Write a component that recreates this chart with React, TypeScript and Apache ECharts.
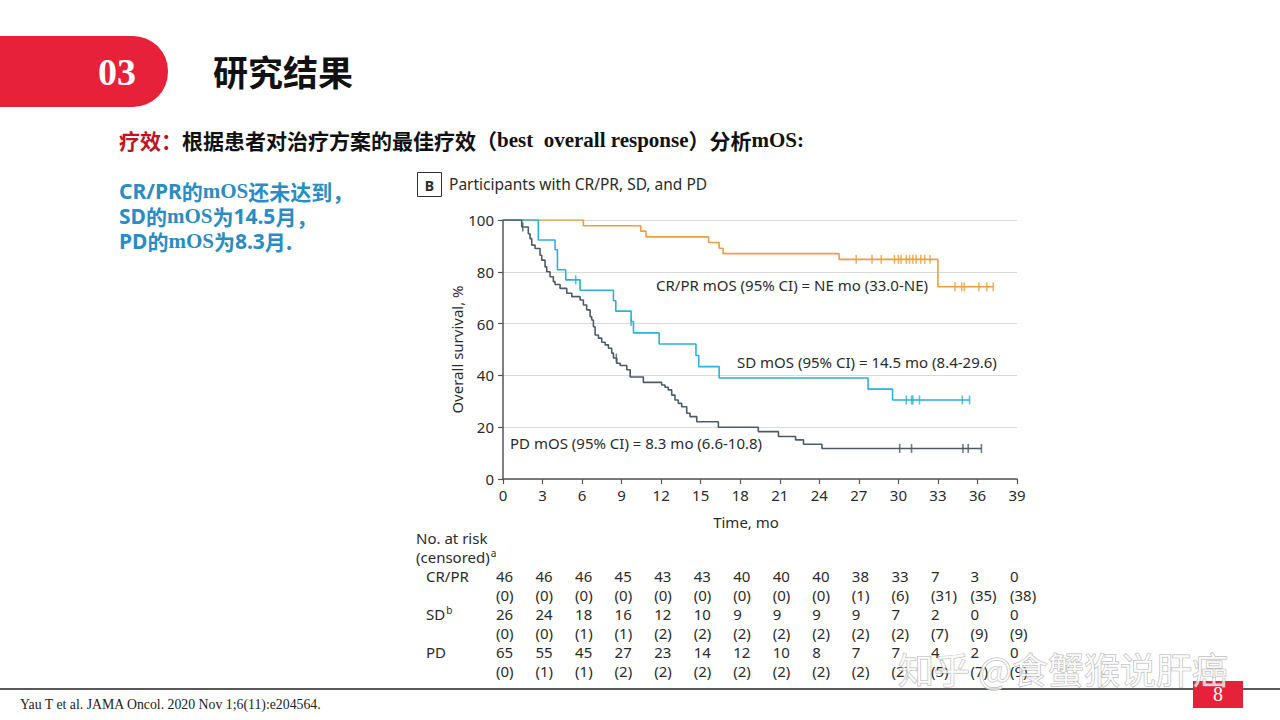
import { useEffect, useRef } from 'react';
import * as echarts from 'echarts';

// ---- Kaplan-Meier data (months, survival %) ----
const crTimes = [0, 6.1, 10.45, 10.85, 15.6, 16.4, 16.7, 25.5, 33.0, 37.2];
const crSurv = [100, 97.8, 95.7, 93.5, 91.3, 89.1, 87.0, 84.8, 74.2, 74.2];
const crCensor = [26.8, 28.0, 28.7, 29.7, 30.0, 30.2, 30.6, 30.85, 31.1, 31.35, 31.7, 32.0, 32.4, 34.3, 34.8, 35.0, 36.1, 36.7, 37.2];

const sdTimes = [0, 2.68, 3.95, 4.13, 4.76, 5.85, 8.38, 8.56, 9.72, 9.9, 11.85, 14.64, 14.85, 16.4, 27.7, 29.56, 35.4];
const sdSurv = [100, 92.3, 88.5, 80.8, 76.9, 72.9, 68.8, 64.8, 60.8, 56.4, 52.1, 47.7, 43.4, 39.0, 34.7, 30.5, 30.5];
const sdCensor = [5.52, 9.72, 30.6, 31.0, 31.1, 31.6, 34.85, 35.4];

const pdTimes = [0, 1.42, 1.92, 2.05, 2.18, 2.43, 2.81, 2.94, 3.19, 3.32, 3.57, 3.82, 3.95, 4.33, 4.84, 5.22, 5.85, 6.1, 6.35, 6.61, 6.73, 6.86, 6.99, 7.24, 7.49, 7.75, 8.0, 8.25, 8.38, 8.63, 8.89, 9.39, 9.65, 10.65, 12.04, 12.29, 12.54, 12.8, 13.05, 13.3, 13.56, 13.94, 14.19, 14.7, 16.34, 19.37, 20.9, 22.2, 22.8, 24.2, 36.3];
const pdSurv = [100, 97.3, 94.7, 92.8, 90.3, 89.0, 86.4, 84.5, 81.9, 80.0, 78.1, 76.2, 75.1, 73.6, 71.7, 70.4, 69.1, 67.2, 65.3, 62.7, 61.4, 58.8, 55.6, 54.4, 52.8, 51.8, 50.5, 48.6, 46.7, 44.7, 43.8, 42.2, 39.4, 37.3, 36.3, 35.4, 34.4, 32.4, 30.5, 29.2, 27.9, 25.4, 24.1, 22.1, 20.0, 18.3, 16.4, 15.1, 13.4, 11.8, 11.8];
const pdCensor = [1.5, 8.6, 30.1, 31.0, 34.9, 35.3, 36.3];

// ---- Number at risk table ----
const riskMonths = [0, 3, 6, 9, 12, 15, 18, 21, 24, 27, 30, 33, 36, 39];
const crRisk = [46, 46, 46, 45, 43, 43, 40, 40, 40, 38, 33, 7, 3, 0];
const crRiskCens = [0, 0, 0, 0, 0, 0, 0, 0, 0, 1, 6, 31, 35, 38];
const sdRisk = [26, 24, 18, 16, 12, 10, 9, 9, 9, 9, 7, 2, 0, 0];
const sdRiskCens = [0, 0, 1, 1, 2, 2, 2, 2, 2, 2, 2, 7, 9, 9];
const pdRisk = [65, 55, 45, 27, 23, 14, 12, 10, 8, 7, 7, 4, 2, 0];
const pdRiskCens = [0, 1, 1, 2, 2, 2, 2, 2, 2, 2, 2, 5, 7, 9];

const yTicks = [0, 20, 40, 60, 80, 100];

const COLOR_CR = '#E9A040';
const COLOR_SD = '#2BB1DA';
const COLOR_PD = '#4D5B66';
const TXT = '#2b2b2b';
const SANS = '"Noto Sans", sans-serif';
const CJK = '"Noto Sans CJK SC", sans-serif';
const SERIF = '"Liberation Serif", "Times New Roman", serif';

const pairs = (t: number[], s: number[]) => t.map((v, i) => [v, s[i]]);
const stepAt = (t: number[], s: number[], x: number) => {
  let v = s[0];
  for (let i = 0; i < t.length; i++) if (t[i] <= x) v = s[i];
  return v;
};

export default function App() {
  const ref = useRef<HTMLDivElement>(null);
  useEffect(() => {
    const chart = echarts.init(ref.current!, null, { renderer: 'svg' });
    const censorSeries = (name: string, times: number[], t: number[], s: number[], color: string) => ({
      name,
      type: 'scatter',
      symbol: 'rect',
      symbolSize: [1.6, 9],
      itemStyle: { color },
      data: times.map((x) => [x, stepAt(t, s, x)]),
      z: 5,
    });
    const lineSeries = (name: string, t: number[], s: number[], color: string) => ({
      name,
      type: 'line',
      step: 'end',
      showSymbol: false,
      symbol: 'none',
      lineStyle: { color, width: 1.6 },
      data: pairs(t, s),
      z: 4,
    });
    chart.setOption({
      animation: false,
      backgroundColor: '#ffffff',
      grid: { left: 503, top: 220, width: 514, height: 259 },
      xAxis: {
        type: 'value',
        min: 0,
        max: 39,
        interval: 3,
        axisLine: { lineStyle: { color: '#555', width: 1.5 } },
        axisTick: { show: true, length: 5, lineStyle: { color: '#555', width: 1.2 } },
        axisLabel: { fontSize: 15, color: TXT, fontFamily: SANS, margin: 8 },
        splitLine: { show: false },
      },
      yAxis: {
        type: 'value',
        min: 0,
        max: 100,
        interval: 20,
        name: 'Overall survival, %',
        nameLocation: 'middle',
        nameGap: 37,
        nameTextStyle: { fontSize: 15, color: TXT, fontFamily: SANS },
        axisLine: { show: true, lineStyle: { color: '#555', width: 1.5 } },
        axisTick: { show: true, length: 5, lineStyle: { color: '#555', width: 1.2 } },
        axisLabel: { fontSize: 15, color: TXT, fontFamily: SANS, margin: 9, formatter: (v: number) => (yTicks.includes(v) ? String(v) : '') },
        splitLine: { show: true, lineStyle: { color: '#DADADA', width: 1.2 } },
      },
      series: [
        lineSeries('CR/PR', crTimes, crSurv, COLOR_CR),
        lineSeries('SD', sdTimes, sdSurv, COLOR_SD),
        lineSeries('PD', pdTimes, pdSurv, COLOR_PD),
        censorSeries('CR/PR censored', crCensor, crTimes, crSurv, COLOR_CR),
        censorSeries('SD censored', sdCensor, sdTimes, sdSurv, COLOR_SD),
        censorSeries('PD censored', pdCensor, pdTimes, pdSurv, COLOR_PD),
      ],
    });

    const px = (m: number) => chart.convertToPixel({ xAxisIndex: 0 }, m) as number;
    const txt = (text: string, x: number, y: number, extra: any = {}) => ({
      type: 'text',
      x,
      y,
      silent: true,
      style: { text, fill: TXT, font: `15px ${SANS}`, align: 'left', verticalAlign: 'middle', ...extra },
    });

    const rowYs = [576, 595, 614, 633, 652, 671];
    const tableRows: [number[], number[]][] = [
      [crRisk, crRiskCens],
      [sdRisk, sdRiskCens],
      [pdRisk, pdRiskCens],
    ];
    const tableEls: any[] = [];
    tableRows.forEach(([vals, cens], r) => {
      riskMonths.forEach((m, i) => {
        const x = px(m) - 7;
        tableEls.push(txt(String(vals[i]), x, rowYs[r * 2]));
        tableEls.push(txt(`(${cens[i]})`, x, rowYs[r * 2 + 1]));
      });
    });

    const graphic: any[] = [
      // header tab
      { type: 'rect', shape: { x: 0, y: 36, width: 168, height: 71, r: [0, 35, 35, 0] }, style: { fill: '#E8213A' } },
      txt('03', 117, 72, { fill: '#ffffff', font: `bold 38px ${SERIF}`, align: 'center' }),
      txt('研究结果', 213, 70, { fill: '#111', font: `bold 35px ${CJK}` }),
      {
        type: 'text',
        x: 119,
        y: 140,
        style: {
          text: '{r|疗效：}{k|根据患者对治疗方案的最佳疗效（}{e|best  overall response}{k|）分析}{e|mOS:}',
          verticalAlign: 'middle',
          rich: {
            r: { fill: '#C0141E', font: `bold 21px ${CJK}` },
            k: { fill: '#111', font: `bold 21px ${CJK}` },
            e: { fill: '#111', font: `bold 21px ${SERIF}` },
          },
        },
      },
      ...[
        '{s|CR/PR}{c|的}{e|mOS}{c|还未达到，}',
        '{s|SD}{c|的}{e|mOS}{c|为}{s|14.5}{c|月，}',
        '{s|PD}{c|的}{e|mOS}{c|为}{s|8.3}{c|月.}',
      ].map((t, i) => ({
        type: 'text',
        x: 119,
        y: 191 + i * 25,
        style: {
          text: t,
          verticalAlign: 'middle',
          rich: {
            s: { fill: '#2A8CC2', font: `bold 21px ${SANS}`, lineHeight: 22 },
            c: { fill: '#2A8CC2', font: `bold 21px ${CJK}`, lineHeight: 22 },
            e: { fill: '#2A8CC2', font: `bold 21px ${SERIF}`, lineHeight: 22 },
          },
        },
      })),
      // panel title
      { type: 'rect', shape: { x: 417.5, y: 172.5, width: 24, height: 24 }, style: { fill: 'none', stroke: '#333', lineWidth: 1 } },
      txt('B', 429.5, 185, { font: `bold 14px ${SANS}`, align: 'center' }),
      txt('Participants with CR/PR, SD, and PD', 449, 184, { font: `15.5px ${SANS}` }),
      // annotations
      txt('CR/PR mOS (95% CI) = NE mo (33.0-NE)', 656, 285, { font: `15px ${SANS}` }),
      txt('SD mOS (95% CI) = 14.5 mo (8.4-29.6)', 737, 362, { font: `15px ${SANS}` }),
      txt('PD mOS (95% CI) = 8.3 mo (6.6-10.8)', 510, 443, { font: `15px ${SANS}` }),
      txt('Time, mo', 746, 522, { font: `15px ${SANS}`, align: 'center' }),
      // risk table
      txt('No. at risk', 416, 538),
      {
        type: 'text',
        x: 416,
        y: 557,
        style: {
          text: '{n|(censored)}{s|a}',
          verticalAlign: 'middle',
          rich: {
            n: { fill: TXT, font: `15px ${SANS}` },
            s: { fill: TXT, font: `10px ${SANS}`, verticalAlign: 'top', padding: [0, 0, 8, 1] },
          },
        },
      },
      txt('CR/PR', 426, 576),
      {
        type: 'text',
        x: 426,
        y: 614,
        style: {
          text: '{n|SD}{s|b}',
          verticalAlign: 'middle',
          rich: {
            n: { fill: TXT, font: `15px ${SANS}` },
            s: { fill: TXT, font: `10px ${SANS}`, padding: [0, 0, 8, 1] },
          },
        },
      },
      txt('PD', 426, 652),
      ...tableEls,
      // footer
      { type: 'rect', shape: { x: 0, y: 688, width: 1280, height: 2 }, style: { fill: '#5a5a5a' } },
      txt('Yau T et al. JAMA Oncol. 2020 Nov 1;6(11):e204564.', 20, 704, { font: `13.8px ${SERIF}`, fill: '#222' }),
      { type: 'rect', shape: { x: 1193, y: 681, width: 50, height: 27 }, style: { fill: '#E8213A' } },
      txt('8', 1218, 694, { fill: '#ffffff', font: `20px ${SERIF}`, align: 'center' }),
      // watermark
      txt('知乎 @食蟹猴说肝癌', 898, 668, {
        font: `36px ${CJK}`,
        fill: 'rgba(255,255,255,0.75)',
        stroke: 'rgba(150,150,150,0.75)',
        lineWidth: 1,
      }),
    ];
    chart.setOption({ graphic });
    return () => chart.dispose();
  }, []);
  return (
    <div
      ref={ref}
      style={{ position: 'fixed', left: 0, top: 0, width: 1280, height: 720, background: '#fff' }}
    />
  );
}
